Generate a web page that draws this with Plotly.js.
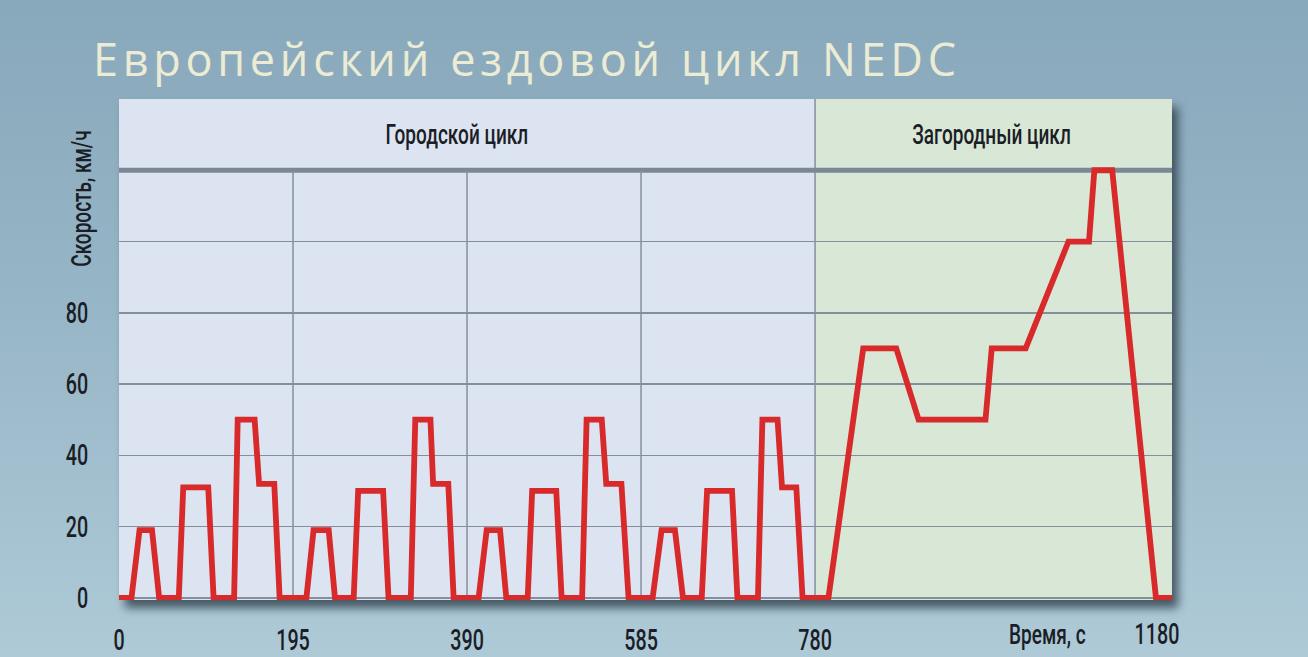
<!DOCTYPE html>
<html>
<head>
<meta charset="utf-8">
<script src="https://cdn.plot.ly/plotly-3.0.1.min.js"></script>
<style>
    html, body { margin: 0; padding: 0; }
    body {
        width: 1308px; height: 657px; overflow: hidden;
        background: linear-gradient(180deg, #88a8bb 0%, #96b5c6 45%, #aecad7 100%);
    }
    #chart { width: 1308px; height: 657px; }
    .gtitle { letter-spacing: 4.7px; }
    .bglayer .bg { filter: drop-shadow(6px 8px 5px rgba(40, 55, 66, 0.78)); }
</style>
</head>
<body>
<div id="chart"></div>
<script>
// ── NEDC: время (с) и скорость (км/ч) ─────────────────────────────
// городской цикл x4, затем загородный
var timeSec = [
    0, 14, 23, 37, 45, 67, 72, 100, 106, 129, 133, 152, 157, 174, 180,
    210, 218, 235, 242, 263, 268, 296, 302, 327, 332, 349, 352, 369, 375,
    403, 412, 427, 434, 458, 463, 490, 496, 519, 524, 541, 546, 563, 571,
    598, 608, 623, 632, 653, 659, 687, 693, 716, 721, 738, 743, 759, 766,
    795, 834, 871, 896, 971, 978, 1016, 1064, 1087, 1093, 1113, 1162, 1180
];
var speedKmh = [
    0, 0, 19, 19, 0, 0, 31, 31, 0, 0, 50, 50, 32, 32, 0,
    0, 19, 19, 0, 0, 30, 30, 0, 0, 50, 50, 32, 32, 0,
    0, 19, 19, 0, 0, 30, 30, 0, 0, 50, 50, 32, 32, 0,
    0, 19, 19, 0, 0, 30, 30, 0, 0, 50, 50, 31, 31, 0,
    0, 70, 70, 50, 50, 70, 70, 100, 100, 120, 120, 0, 0
];

var xTickVals = [0, 195, 390, 585, 780];
var xTickText = ['0', '195', '390', '585', '780'];
var yTickVals = [0, 20, 40, 60, 80, 100];
var yTickText = ['0', '20', '40', '60', '80', ''];

var urbanEnd  = 780;
var cycleEnd  = 1180;
var headerTop = 120;
var subCycles = [195, 390, 585];

// ── style ─────────────────────────────────────────────────────
var C = {
    urban: '#dde4f1', extra: '#d9e8d6', grid: '#858f9b', band: '#7b8794',
    red: '#d8292b', text: '#1b1e26', title: '#ecebd4'
};
var NARROW = 'Roboto, "DejaVu Sans", sans-serif';
var SQUEEZE = 0.68;   // узкий шрифт, как в оригинале

function nf(size) { return { family: NARROW, size: size, weight: 500, color: C.text }; }

var shapes = [
    { type: 'rect', xref: 'x', yref: 'paper', x0: urbanEnd, x1: cycleEnd, y0: 0, y1: 1,
      fillcolor: C.extra, line: { width: 0 }, layer: 'below' }
];
subCycles.forEach(function (t) {
    shapes.push({ type: 'line', xref: 'x', yref: 'y', x0: t, x1: t, y0: -0.6, y1: headerTop,
        line: { color: C.grid, width: 1.5 }, layer: 'between' });
});
shapes.push({ type: 'line', xref: 'x', yref: 'paper', x0: urbanEnd, x1: urbanEnd, y0: 0, y1: 1,
    line: { color: C.grid, width: 1.5 }, layer: 'between' });
shapes.push({ type: 'line', xref: 'paper', yref: 'y', x0: 0, x1: 1, y0: headerTop, y1: headerTop,
    line: { color: C.band, width: 5 }, layer: 'between' });

var trace = {
    x: timeSec, y: speedKmh, mode: 'lines', type: 'scatter',
    line: { color: C.red, width: 5.8 }, hoverinfo: 'skip', showlegend: false
};

var layout = {
    width: 1308, height: 657,
    paper_bgcolor: 'rgba(0,0,0,0)', plot_bgcolor: C.urban,
    margin: { l: 119, r: 136, t: 99, b: 57 },
    title: {
        text: 'Европейский ездовой цикл NEDC',
        xref: 'container', yref: 'container', x: 93 / 1308, xanchor: 'left',
        y: 1 - 60 / 657, yanchor: 'middle',
        font: { family: '"Open Sans", "Noto Sans", sans-serif', size: 45, color: C.title }
    },
    xaxis: {
        range: [0, cycleEnd], tickvals: xTickVals, ticktext: xTickText,
        showgrid: false, zeroline: false, showline: false,
        ticks: 'outside', ticklen: 14, tickcolor: 'rgba(0,0,0,0)',
        tickfont: nf(29), fixedrange: true
    },
    yaxis: {
        range: [-0.6, 140], tickvals: yTickVals, ticktext: yTickText,
        showgrid: true, gridcolor: C.grid, gridwidth: 1.5, zeroline: false, showline: false,
        ticks: 'outside', ticklen: 24, tickcolor: 'rgba(0,0,0,0)',
        tickfont: nf(29), fixedrange: true
    },
    shapes: shapes,
    annotations: [
        { x: 379, y: 130, xref: 'x', yref: 'y', text: 'Городской цикл', showarrow: false,
          xanchor: 'center', yanchor: 'middle', font: nf(28) },
        { x: 978, y: 130, xref: 'x', yref: 'y', text: 'Загородный цикл', showarrow: false,
          xanchor: 'center', yanchor: 'middle', font: nf(28) },
        { x: -0.035, y: 112, xref: 'paper', yref: 'y', text: 'Скорость, км/ч', textangle: -90,
          xanchor: 'center', yanchor: 'middle', showarrow: false, font: nf(28) },
        { x: 1040, y: -0.068, xref: 'x', yref: 'paper', text: 'Время, с', showarrow: false,
          xanchor: 'center', yanchor: 'middle', font: nf(28) },
        { x: cycleEnd, y: -0.068, xref: 'x', yref: 'paper', text: '1180', xshift: -15, showarrow: false,
          xanchor: 'center', yanchor: 'middle', font: nf(29) }
    ]
};

Plotly.newPlot('chart', [trace], layout, { displayModeBar: false, staticPlot: true })
    .then(function (gd) {
        gd.querySelectorAll('.xtick text, .ytick text, .annotation-text').forEach(function (t) {
            var w = t.getComputedTextLength();
            if (!w) return;
            t.setAttribute('textLength', (w * SQUEEZE).toFixed(1));
            t.setAttribute('lengthAdjust', 'spacingAndGlyphs');
        });
    });
</script>
</body>
</html>
